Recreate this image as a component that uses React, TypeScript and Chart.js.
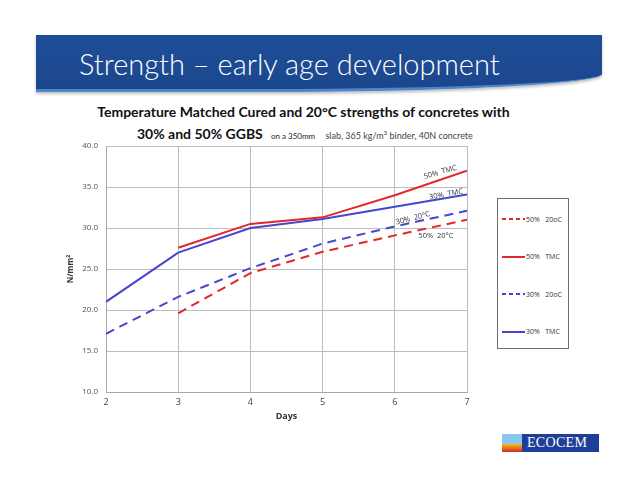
import React, { useEffect, useRef } from "react";
import { Chart, registerables } from "chart.js";

Chart.register(...registerables);

const days = [2, 3, 4, 5, 6, 7];
const tmc50 = [null, 27.6, 30.5, 31.3, 34.0, 37.0];
const c20_50 = [null, 19.6, 24.5, 27.1, 29.1, 31.0];
const tmc30 = [21.0, 27.0, 30.0, 31.1, 32.6, 34.1];
const c20_30 = [17.1, 21.6, 25.1, 28.1, 30.2, 32.1];
const yTicks = [10, 15, 20, 25, 30, 35, 40];

const RED = "#e3272b";
const BLUE = "#4646cf";

// line annotations: [text, x(day), y(N/mm2), rotation deg]
const noteText = ["50%  TMC", "30%  TMC", "30%  20°C", "50%  20°C"];
const noteX = [6.63, 6.71, 6.25, 6.57];
const noteY = [36.8, 34.1, 31.2, 29.0];
const noteRot = [-16, -10, -14, 0];

const legendLabels = ["50%   20oC", "50%   TMC", "30%   20oC", "30%   TMC"];
const legendColors = [RED, RED, BLUE, BLUE];
const legendDashed = [true, false, true, false];

function pts(vals: (number | null)[]) {
  return days.map((d, i) => ({ x: d, y: vals[i] }));
}

const notesPlugin = {
  id: "notes",
  afterDatasetsDraw(chart: any) {
    const { ctx, scales } = chart;
    ctx.save();
    ctx.font = "7.5px 'Open Sans', sans-serif";
    ctx.fillStyle = "#333";
    ctx.textAlign = "center";
    ctx.textBaseline = "middle";
    noteText.forEach((t, i) => {
      const px = scales.x.getPixelForValue(noteX[i]);
      const py = scales.y.getPixelForValue(noteY[i]);
      ctx.save();
      ctx.translate(px, py);
      ctx.rotate((noteRot[i] * Math.PI) / 180);
      ctx.fillText(t, 0, 0);
      ctx.restore();
    });
    ctx.restore();
  },
};

export default function App() {
  const ref = useRef<HTMLCanvasElement>(null);
  useEffect(() => {
    const ds = (label: string, vals: (number | null)[], color: string, dashed: boolean) => ({
      label,
      data: pts(vals),
      borderColor: color,
      backgroundColor: color,
      borderWidth: 2,
      borderDash: dashed ? [9, 6] : [],
      pointRadius: 0,
      tension: 0,
      spanGaps: false,
    });
    const chart = new Chart(ref.current!, {
      type: "line",
      data: {
        datasets: [
          ds("50% 20oC", c20_50, RED, true),
          ds("50% TMC", tmc50, RED, false),
          ds("30% 20oC", c20_30, BLUE, true),
          ds("30% TMC", tmc30, BLUE, false),
        ],
      },
      options: {
        animation: false,
        responsive: false,
        layout: { padding: { left: 66, right: 171, top: 146, bottom: 71 } },
        plugins: { legend: { display: false }, tooltip: { enabled: false } },
        scales: {
          x: {
            type: "linear",
            min: 2,
            max: 7,
            afterFit: (a: any) => {
              a.height = 30;
            },
            ticks: {
              stepSize: 1,
              padding: 5,
              color: "#444",
              font: { size: 9, family: "'Open Sans', sans-serif" },
              callback: (v: any) => String(v),
            },
            grid: { color: "#bdbdbd", lineWidth: 1, drawTicks: false },
            border: { color: "#a8a8a8", width: 1 },
            title: {
              display: true,
              text: "Days",
              color: "#333",
              padding: { top: 0, bottom: 0 },
              font: { size: 9, weight: "bold", family: "'Open Sans', sans-serif" },
            },
          },
          y: {
            min: 10,
            max: 40,
            afterFit: (a: any) => {
              a.width = 40;
            },
            afterBuildTicks: (a: any) => {
              a.ticks = yTicks.map((v) => ({ value: v }));
            },
            ticks: {
              padding: 8,
              color: "#555",
              font: { size: 8, family: "'Open Sans', sans-serif" },
              callback: (v: any) => Number(v).toFixed(1),
            },
            grid: { color: "#bdbdbd", lineWidth: 1, drawTicks: false },
            border: { color: "#a8a8a8", width: 1 },
            title: {
              display: true,
              text: "N/mm²",
              color: "#333",
              padding: { top: 0, bottom: 0 },
              font: { size: 8, weight: "bold", family: "'Open Sans', sans-serif" },
            },
          },
        },
      },
      plugins: [notesPlugin],
    });
    return () => chart.destroy();
  }, []);

  return (
    <div
      style={{
        position: "fixed",
        left: 0,
        top: 0,
        width: 638,
        height: 493,
        background: "#ffffff",
        overflow: "hidden",
        fontFamily: "'Open Sans', sans-serif",
      }}
    >
      {/* banner */}
      <div
        style={{
          position: "absolute",
          left: 36,
          top: 35,
          width: 566,
          height: 54,
          background: "linear-gradient(180deg, #1e4d98 0%, #1d4a92 60%, #1b468c 100%)",
          borderBottomRightRadius: "60% 18px",
          boxShadow: "0 2px 3px rgba(0,0,0,0.25)",
          borderBottom: "3px solid #4f86c9",
        }}
      />
      <div
        style={{
          position: "absolute",
          left: 79,
          top: 44,
          color: "#fff",
          fontFamily: "Lato, sans-serif",
          fontWeight: 300,
          fontSize: 29,
          whiteSpace: "nowrap",
          lineHeight: "40px",
        }}
      >
        Strength – early age development
      </div>
      {/* chart title */}
      <div
        style={{
          position: "absolute",
          left: 0,
          width: 607,
          top: 102,
          textAlign: "center",
          fontFamily: "Lato, sans-serif",
          fontWeight: "bold",
          fontSize: 14,
          color: "#111",
          whiteSpace: "nowrap",
          lineHeight: "20px",
        }}
      >
        Temperature Matched Cured and 20°C strengths of concretes with
      </div>
      <div
        style={{
          position: "absolute",
          left: 137,
          top: 122,
          whiteSpace: "pre",
          color: "#111",
          lineHeight: "22px",
          fontFamily: "Lato, sans-serif",
        }}
      >
        <span style={{ fontWeight: "bold", fontSize: 14 }}>30% and 50% GGBS</span>
        <span style={{ fontSize: 8, color: "#222" }}>{"    on a 350mm     "}</span>
        <span style={{ fontSize: 9, color: "#444" }}>
          slab, 365 kg/m<sup style={{ fontSize: 6 }}>3</sup> binder, 40N concrete
        </span>
      </div>
      <canvas
        ref={ref}
        width={638}
        height={493}
        style={{ position: "absolute", left: 0, top: 0, width: 638, height: 493 }}
      />
      {/* legend */}
      <div
        style={{
          position: "absolute",
          left: 497,
          top: 198,
          width: 70,
          height: 149,
          border: "1px solid #707070",
          background: "#fff",
        }}
      >
        {legendLabels.map((l, i) => (
          <div
            key={l}
            style={{
              position: "absolute",
              left: 4,
              top: 14 + i * 37.5,
              display: "flex",
              alignItems: "center",
              height: 12,
            }}
          >
            <svg width={23} height={4} style={{ display: "block" }}>
              <line
                x1={0}
                y1={2}
                x2={23}
                y2={2}
                stroke={legendColors[i]}
                strokeWidth={2}
                strokeDasharray={legendDashed[i] ? "4,3" : undefined}
              />
            </svg>
            <span style={{ fontSize: 7, color: "#333", whiteSpace: "pre", marginLeft: 1 }}>{l}</span>
          </div>
        ))}
      </div>
      {/* logo */}
      <div
        style={{
          position: "absolute",
          left: 502,
          top: 434,
          width: 97,
          height: 18,
          background: "#1f3e98",
          display: "flex",
          alignItems: "center",
        }}
      >
        <div
          style={{
            width: 20,
            height: 18,
            background: "linear-gradient(180deg, #8cc8ee 0%, #8cc8ee 55%, #f2c318 55%, #d8262a 100%)",
          }}
        />
        <span
          style={{
            color: "#fff",
            fontFamily: "'Liberation Serif', serif",
            fontSize: 14,
            marginLeft: 5,
            letterSpacing: 0.3,
          }}
        >
          ECOCEM
        </span>
      </div>
    </div>
  );
}
